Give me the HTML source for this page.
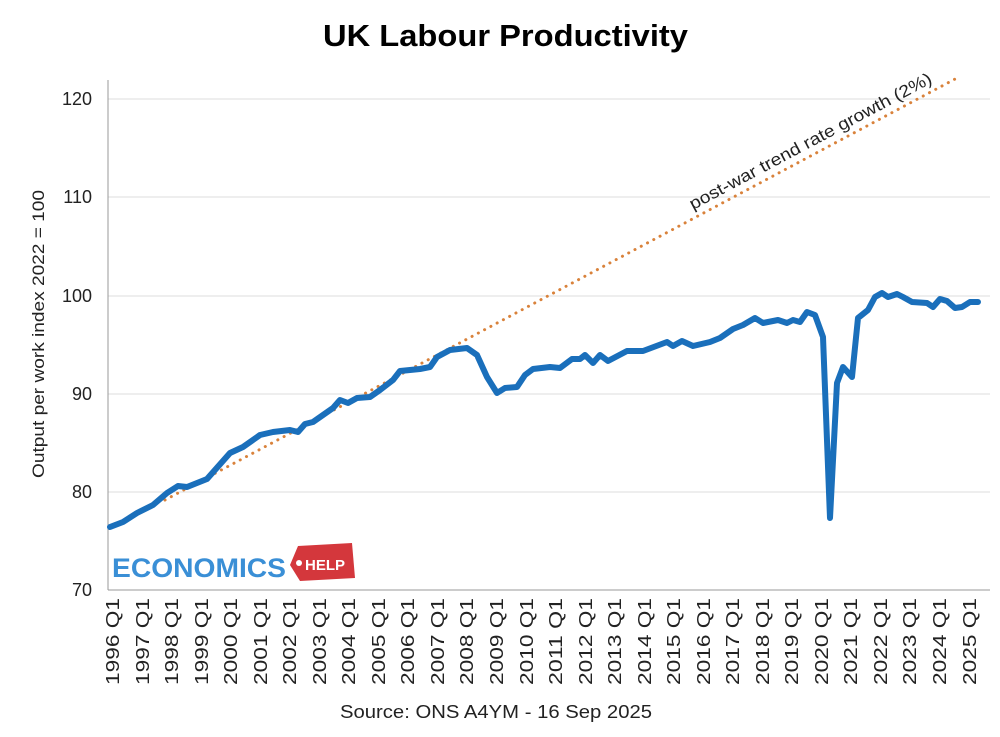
<!DOCTYPE html>
<html><head><meta charset="utf-8"><style>
body{margin:0;background:#fff;}
svg text{font-family:"Liberation Sans",sans-serif;}
</style></head><body>
<svg width="1000" height="732" viewBox="0 0 1000 732" xmlns="http://www.w3.org/2000/svg">
<text x="323" y="46" font-size="31" font-weight="bold" fill="#000" textLength="365" lengthAdjust="spacingAndGlyphs">UK Labour Productivity</text>
<g stroke="#dcdcdc" stroke-width="1">
<line x1="108" y1="99" x2="990" y2="99"/>
<line x1="108" y1="197" x2="990" y2="197"/>
<line x1="108" y1="296" x2="990" y2="296"/>
<line x1="108" y1="394" x2="990" y2="394"/>
<line x1="108" y1="492" x2="990" y2="492"/>
</g>
<line x1="108" y1="80" x2="108" y2="590" stroke="#999"/>
<line x1="108" y1="590" x2="990" y2="590" stroke="#999"/>
<g font-size="18" text-anchor="end" fill="#222">
<text x="92" y="105">120</text><text x="92" y="203">110</text><text x="92" y="302">100</text>
<text x="92" y="400">90</text><text x="92" y="498">80</text><text x="92" y="596">70</text>
</g>
<text transform="translate(44,478) rotate(-90)" font-size="17" fill="#222" textLength="288" lengthAdjust="spacingAndGlyphs">Output per work index 2022 = 100</text>
<line x1="165" y1="500" x2="957" y2="78" stroke="#d9823b" stroke-width="3" stroke-dasharray="0.1 7" stroke-linecap="round"/>
<text transform="translate(693,210) rotate(-28)" font-size="17" fill="#222" textLength="272" lengthAdjust="spacingAndGlyphs">post-war trend rate growth (2%)</text>
<polyline fill="none" stroke="#1a6fbb" stroke-width="6" stroke-linejoin="round" stroke-linecap="round" points="110,527 123,522 137,513 153,505 167,493 178,486 187,487 207,479 230,453 243,447 260,435 273,432 290,430 298,432 305,424 313,422 333,408 340,400 348,403 357,398 370,397 380,390 393,380 400,371 420,369 430,367 437,357 450,350 467,348 477,355 487,377 497,393 505,388 517,387 525,375 533,369 550,367 560,368 572,359 580,359 585,355 593,363 600,355 608,361 627,351 643,351 667,342 673,346 682,341 693,346 710,342 720,338 733,329 743,325 755,318 763,323 778,320 787,323 793,320 800,322 807,312 815,315 823,337 830,518 837,383 843,367 852,377 858,318 868,310 875,297 882,293 888,297 897,294 903,297 912,302 927,303 933,307 940,299 947,301 955,308 962,307 970,302 978,302"/>
<text x="112" y="577" font-size="27" font-weight="bold" fill="#3a8fd6" textLength="174" lengthAdjust="spacingAndGlyphs">ECONOMICS</text>
<path d="M298,546 L352,543 L355,578 L300,581 L290,565 Z" fill="#d4373c"/>
<circle cx="299" cy="563" r="3" fill="#fff"/>
<text x="305" y="570" font-size="15" font-weight="bold" fill="#fff">HELP</text>
<text x="340" y="718" font-size="18" fill="#222" textLength="312" lengthAdjust="spacingAndGlyphs">Source: ONS A4YM - 16 Sep 2025</text>
<g font-size="18" fill="#222" text-anchor="end">
<text transform="translate(119,598) rotate(-90)" textLength="87" lengthAdjust="spacingAndGlyphs">1996 Q1</text>
<text transform="translate(149,598) rotate(-90)" textLength="87" lengthAdjust="spacingAndGlyphs">1997 Q1</text>
<text transform="translate(178,598) rotate(-90)" textLength="87" lengthAdjust="spacingAndGlyphs">1998 Q1</text>
<text transform="translate(208,598) rotate(-90)" textLength="87" lengthAdjust="spacingAndGlyphs">1999 Q1</text>
<text transform="translate(237,598) rotate(-90)" textLength="87" lengthAdjust="spacingAndGlyphs">2000 Q1</text>
<text transform="translate(267,598) rotate(-90)" textLength="87" lengthAdjust="spacingAndGlyphs">2001 Q1</text>
<text transform="translate(296,598) rotate(-90)" textLength="87" lengthAdjust="spacingAndGlyphs">2002 Q1</text>
<text transform="translate(326,598) rotate(-90)" textLength="87" lengthAdjust="spacingAndGlyphs">2003 Q1</text>
<text transform="translate(355,598) rotate(-90)" textLength="87" lengthAdjust="spacingAndGlyphs">2004 Q1</text>
<text transform="translate(385,598) rotate(-90)" textLength="87" lengthAdjust="spacingAndGlyphs">2005 Q1</text>
<text transform="translate(414,598) rotate(-90)" textLength="87" lengthAdjust="spacingAndGlyphs">2006 Q1</text>
<text transform="translate(444,598) rotate(-90)" textLength="87" lengthAdjust="spacingAndGlyphs">2007 Q1</text>
<text transform="translate(473,598) rotate(-90)" textLength="87" lengthAdjust="spacingAndGlyphs">2008 Q1</text>
<text transform="translate(503,598) rotate(-90)" textLength="87" lengthAdjust="spacingAndGlyphs">2009 Q1</text>
<text transform="translate(533,598) rotate(-90)" textLength="87" lengthAdjust="spacingAndGlyphs">2010 Q1</text>
<text transform="translate(562,598) rotate(-90)" textLength="87" lengthAdjust="spacingAndGlyphs">2011 Q1</text>
<text transform="translate(592,598) rotate(-90)" textLength="87" lengthAdjust="spacingAndGlyphs">2012 Q1</text>
<text transform="translate(621,598) rotate(-90)" textLength="87" lengthAdjust="spacingAndGlyphs">2013 Q1</text>
<text transform="translate(651,598) rotate(-90)" textLength="87" lengthAdjust="spacingAndGlyphs">2014 Q1</text>
<text transform="translate(680,598) rotate(-90)" textLength="87" lengthAdjust="spacingAndGlyphs">2015 Q1</text>
<text transform="translate(710,598) rotate(-90)" textLength="87" lengthAdjust="spacingAndGlyphs">2016 Q1</text>
<text transform="translate(739,598) rotate(-90)" textLength="87" lengthAdjust="spacingAndGlyphs">2017 Q1</text>
<text transform="translate(769,598) rotate(-90)" textLength="87" lengthAdjust="spacingAndGlyphs">2018 Q1</text>
<text transform="translate(798,598) rotate(-90)" textLength="87" lengthAdjust="spacingAndGlyphs">2019 Q1</text>
<text transform="translate(828,598) rotate(-90)" textLength="87" lengthAdjust="spacingAndGlyphs">2020 Q1</text>
<text transform="translate(857,598) rotate(-90)" textLength="87" lengthAdjust="spacingAndGlyphs">2021 Q1</text>
<text transform="translate(887,598) rotate(-90)" textLength="87" lengthAdjust="spacingAndGlyphs">2022 Q1</text>
<text transform="translate(916,598) rotate(-90)" textLength="87" lengthAdjust="spacingAndGlyphs">2023 Q1</text>
<text transform="translate(946,598) rotate(-90)" textLength="87" lengthAdjust="spacingAndGlyphs">2024 Q1</text>
<text transform="translate(976,598) rotate(-90)" textLength="87" lengthAdjust="spacingAndGlyphs">2025 Q1</text>
</g>
</svg>
</body></html>
